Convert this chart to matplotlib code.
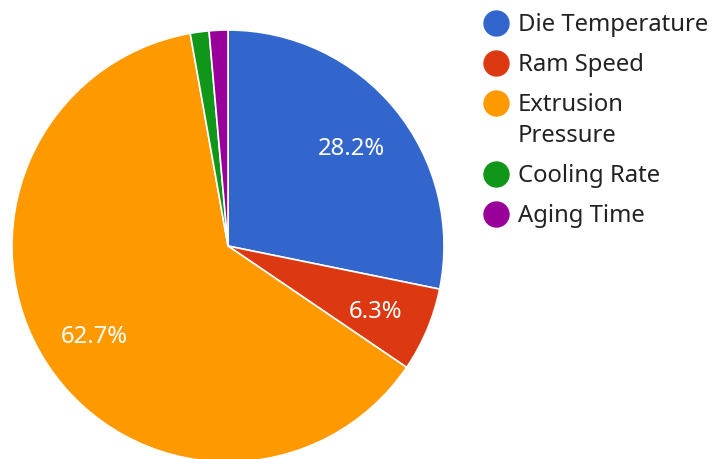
import matplotlib.pyplot as plt
import matplotlib
from matplotlib.lines import Line2D
matplotlib.rcParams['font.family'] = ['Noto Sans', 'DejaVu Sans']

labels = ['Die Temperature', 'Ram Speed', 'Extrusion\nPressure', 'Cooling Rate', 'Aging Time']
values = [28.2, 6.3, 62.7, 1.4, 1.4]
colors = ['#3366cc', '#dc3912', '#ff9900', '#109618', '#990099']

W, H = 713, 459
fig = plt.figure(figsize=(W / 100, H / 100), dpi=100, facecolor='white')
ax = fig.add_axes([12 / W, -3 / H, 432 / W, 432 / H])


def fmt(p):
    return '%.1f%%' % p if p >= 5 else ''


wedges, texts, autotexts = ax.pie(values, colors=colors, startangle=90, counterclock=False,
                                  autopct=fmt, pctdistance=0.74, radius=1,
                                  wedgeprops=dict(edgecolor='white', linewidth=1.2),
                                  textprops=dict(color='white', fontsize=17.2))
# nudge the percent labels down a touch
for t in autotexts:
    x0, y0 = t.get_position()
    t.set_position((x0, y0 - 0.018))
ax.set_xlim(-1, 1)
ax.set_ylim(-1, 1)
ax.set_aspect('equal')
ax.axis('off')

# legend by hand (wrapped label needs its own line spacing)
lx, y = 496, 23
for lab, c in zip(labels, colors):
    fig.lines.append(Line2D([lx / W], [1 - y / H], marker='o', markersize=18,
                            color=c, transform=fig.transFigure))
    for i, part in enumerate(lab.split('\n')):
        fig.text(518 / W, 1 - (y + 2 + i * 31) / H, part, fontsize=17.2, color='#222222',
                 va='center')
    y += 40 + lab.count('\n') * 31

fig.savefig('out.png', dpi=100, facecolor='white')
